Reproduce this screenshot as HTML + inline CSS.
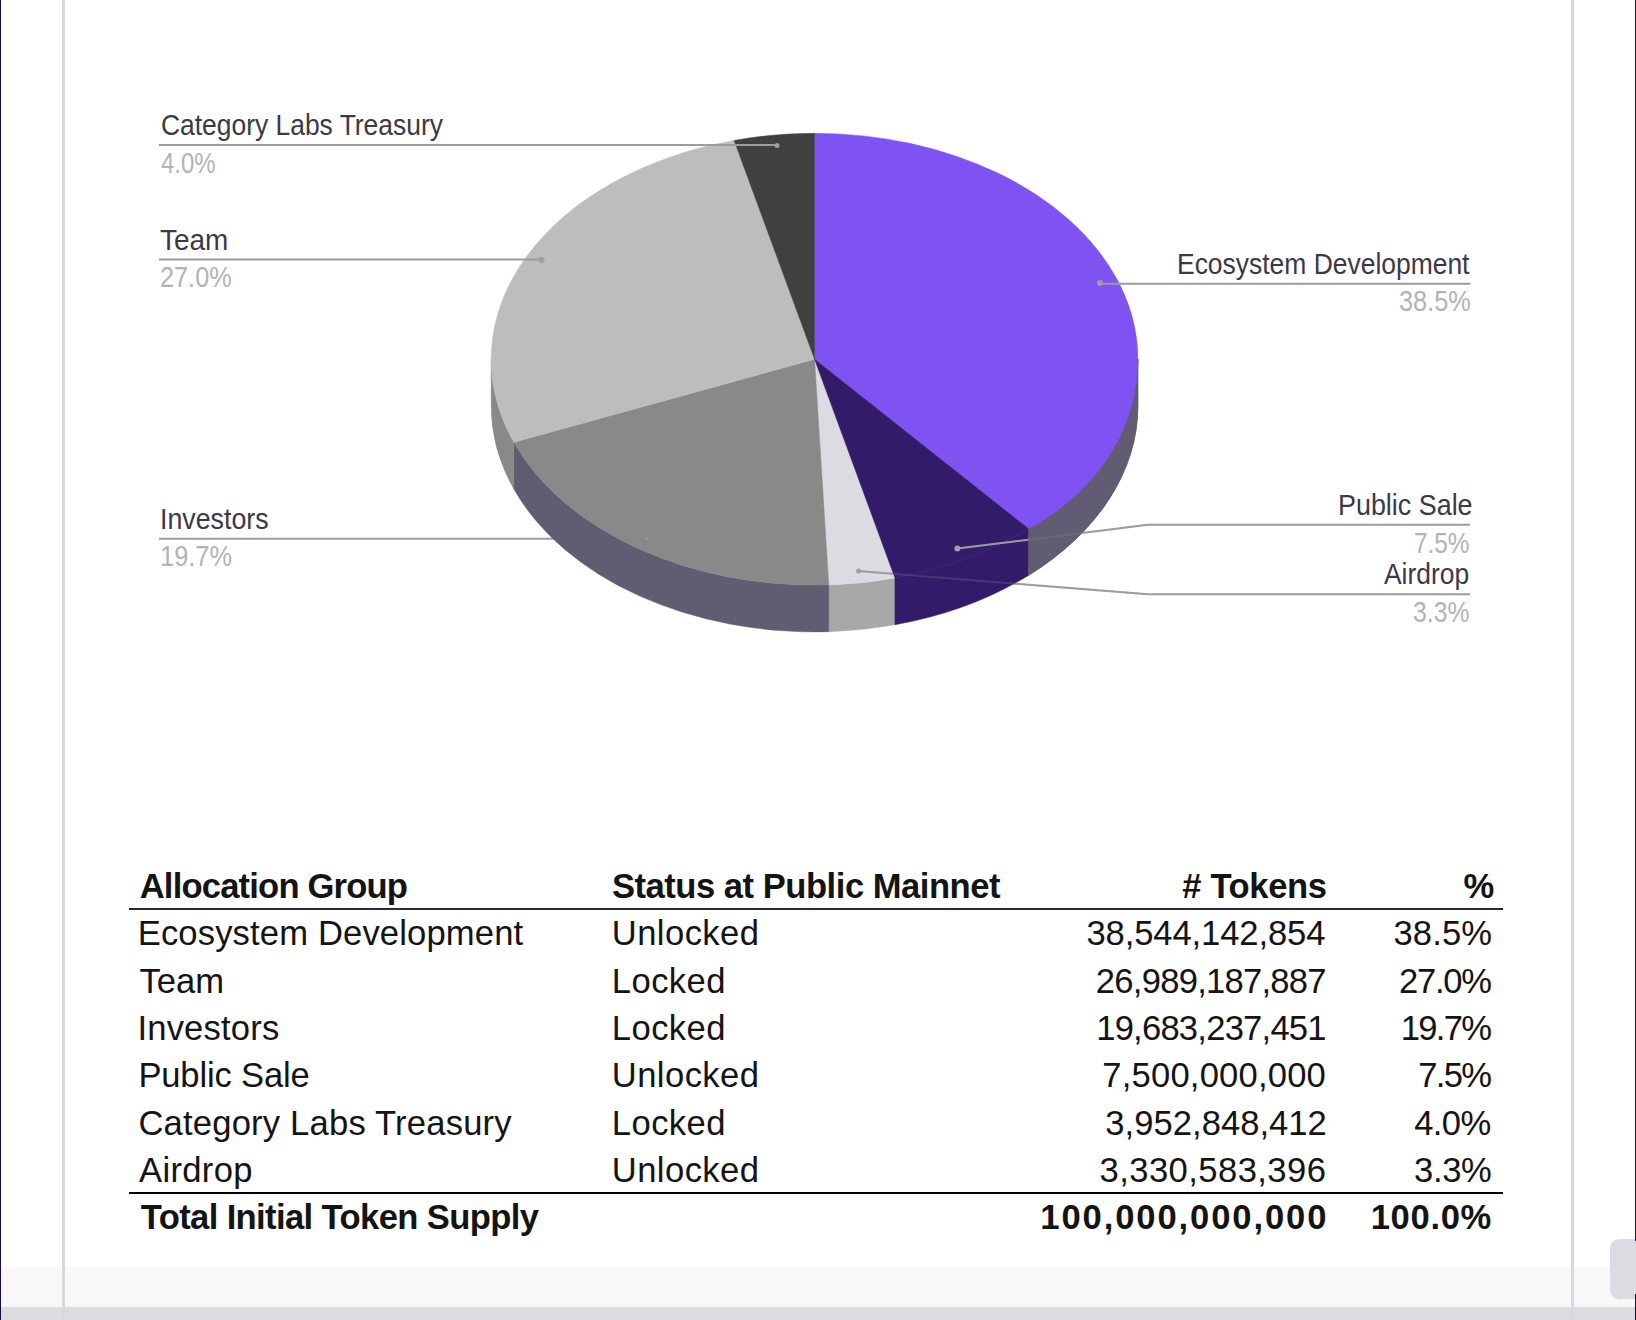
<!DOCTYPE html>
<html><head><meta charset="utf-8"><style>
html,body{margin:0;padding:0;background:#fff;}
body{width:1636px;height:1320px;position:relative;overflow:hidden;font-family:"Liberation Sans",sans-serif;}
.abs{position:absolute;}
.tx{position:absolute;white-space:nowrap;line-height:1;}
</style></head><body>
<div class="abs" style="left:1px;top:1267px;width:1634px;height:40px;background:#f8f8f8"></div>
<div class="abs" style="left:1px;top:1307px;width:1634px;height:13px;background:#dcdce0"></div>
<div class="abs" style="left:1609.5px;top:1239.2px;width:40px;height:59.6px;border-radius:9px;background:#dcdbe1"></div>
<div class="abs" style="left:0;top:0;width:1px;height:1320px;background:#1c0a4f"></div>
<div class="abs" style="left:1635px;top:0;width:1px;height:1241px;background:#1c0a4f"></div>
<div class="abs" style="left:1635px;top:1294px;width:1px;height:26px;background:#1c0a4f"></div>
<div class="abs" style="left:62px;top:0;width:3px;height:1320px;background:#d9d8df"></div>
<div class="abs" style="left:1571px;top:0;width:3px;height:1320px;background:#d9d8df"></div>
<svg class="abs" style="left:0;top:0" width="1636" height="700" viewBox="0 0 1636 700">
<polyline points="159,538.7 600,538.7" stroke="#9c9ca0" stroke-width="2" fill="none"/>
<path d="M1137.90,359.20 A323.35,225.9 0 0 1 1028.39,528.65 L1028.39,575.45 A323.35,225.9 0 0 0 1137.90,406.00 Z" fill="#615c71" stroke="#615c71" stroke-width="0.5"/>
<path d="M894.96,578.00 A323.35,225.9 0 0 1 828.77,584.88 L828.77,631.68 A323.35,225.9 0 0 0 894.96,624.80 Z" fill="#a8a8a8" stroke="#a8a8a8" stroke-width="0.5"/>
<path d="M828.77,584.88 A323.35,225.9 0 0 1 513.91,442.36 L513.91,489.16 A323.35,225.9 0 0 0 828.77,631.68 Z" fill="#615c71" stroke="#615c71" stroke-width="0.5"/>
<path d="M513.91,442.36 A323.35,225.9 0 0 1 491.20,359.20 L491.20,406.00 A323.35,225.9 0 0 0 513.91,489.16 Z" fill="#898989" stroke="#898989" stroke-width="0.5"/>
<path d="M814.55,359.2 L814.55,133.30 A323.35,225.9 0 0 1 1028.39,528.65 Z" fill="#7f52f2" stroke="#7f52f2" stroke-width="0.5"/>
<path d="M814.55,359.2 L894.96,578.00 A323.35,225.9 0 0 1 828.77,584.88 Z" fill="#dcdbe1" stroke="#dcdbe1" stroke-width="0.5"/>
<path d="M814.55,359.2 L828.77,584.88 A323.35,225.9 0 0 1 513.91,442.36 Z" fill="#898989" stroke="#898989" stroke-width="0.5"/>
<path d="M814.55,359.2 L513.91,442.36 A323.35,225.9 0 0 1 734.14,140.40 Z" fill="#bdbdbd" stroke="#bdbdbd" stroke-width="0.5"/>
<path d="M814.55,359.2 L734.14,140.40 A323.35,225.9 0 0 1 814.55,133.30 Z" fill="#404040" stroke="#404040" stroke-width="0.5"/>
<polyline points="1470,594.3 1148,594.3 858.6,571.1" stroke="#9c9ca0" stroke-width="2" fill="none"/>
<circle cx="858.6" cy="571.1" r="2.5" fill="#a0a0a4"/>
<path d="M1028.39,528.65 A323.35,225.9 0 0 1 894.96,578.00 L894.96,624.80 A323.35,225.9 0 0 0 1028.39,575.45 Z" fill="#321b69" stroke="#321b69" stroke-width="0.5"/>
<path d="M814.55,359.2 L1028.39,528.65 A323.35,225.9 0 0 1 894.96,578.00 Z" fill="#321b69" stroke="#321b69" stroke-width="0.5"/>
<polyline points="1470,524.7 1148,524.7 957.4,548.6" stroke="#9c9ca0" stroke-width="2" fill="none"/>
<circle cx="957.4" cy="548.6" r="3" fill="#a0a0a4"/>
<path d="M1137.90,359.20 A323.35,225.9 0 0 1 1028.39,528.65 L1028.39,575.45 A323.35,225.9 0 0 0 1137.90,406.00 Z" fill="#615c71" stroke="#615c71" stroke-width="0.5"/>
<polygon points="1137.90,359.20 1137.83,364.82 1137.61,370.03 1137.25,375.15 1136.74,380.22 1136.08,385.24 1135.29,390.23 1134.34,395.18 1133.26,400.10 1132.03,404.99 1130.66,409.83 1129.14,414.64 1127.49,419.41 1125.69,424.14 1123.75,428.83 1121.68,433.47 1119.47,438.07 1117.12,442.62 1114.63,447.12 1112.01,451.57 1109.25,455.96 1106.36,460.30 1103.35,464.58 1100.20,468.80 1096.92,472.96 1093.52,477.05 1089.99,481.08 1086.33,485.04 1082.56,488.93 1078.66,492.75 1074.64,496.50 1070.51,500.17 1066.27,503.76 1061.91,507.27 1057.43,510.69 1052.85,514.02 1048.17,517.26 1043.37,520.40 1038.48,523.41 1033.48,526.27 1028.39,528.65 1028.39,526.15 1033.48,522.94 1038.48,519.66 1043.37,516.31 1048.17,512.88 1052.85,509.39 1057.43,505.82 1061.91,502.19 1066.27,498.50 1070.51,494.73 1074.64,490.91 1078.66,487.03 1082.56,483.09 1086.33,479.09 1089.99,475.03 1093.52,470.93 1096.92,466.77 1100.20,462.56 1103.35,458.31 1106.36,454.01 1109.25,449.66 1112.01,445.27 1114.63,440.85 1117.12,436.38 1119.47,431.88 1121.68,427.35 1123.75,422.78 1125.69,418.19 1127.49,413.57 1129.14,408.92 1130.66,404.25 1132.03,399.55 1133.26,394.84 1134.34,390.11 1135.29,385.36 1136.08,380.61 1136.74,375.84 1137.25,371.06 1137.61,366.28 1137.83,361.49 1137.90,356.70" fill="#7f52f2"/>
<polyline points="1148,594.3 858.6,571.1" stroke="#9c9ca0" stroke-width="2" fill="none" opacity="0.22"/>
<polyline points="1148,524.7 957.4,548.6" stroke="#9c9ca0" stroke-width="2" fill="none" opacity="0.18"/>
<circle cx="646.5" cy="538.5" r="1.5" fill="#a0a0a4" opacity="0.6"/>
<polyline points="159,145 777,145" stroke="#9c9ca0" stroke-width="2" fill="none"/>
<polyline points="159,259.6 541,259.6" stroke="#9c9ca0" stroke-width="2" fill="none"/>
<polyline points="1100,283.8 1470.4,283.8" stroke="#9c9ca0" stroke-width="2" fill="none"/>
<circle cx="777" cy="145.5" r="2.5" fill="#a0a0a4"/>
<circle cx="541.5" cy="260" r="3" fill="#a0a0a4"/>
<circle cx="1100" cy="283" r="3" fill="#a0a0a4"/>
</svg>
<div class="tx" id="L1" style="left:160.66px;top:110.95px;font-size:29.0px;transform:scaleX(0.9108);transform-origin:0 0;color:#3b3946;">Category Labs Treasury</div>
<div class="tx" id="P1" style="left:161.12px;top:148.55px;font-size:29.0px;transform:scaleX(0.8259);transform-origin:0 0;color:#b3b3b6;">4.0%</div>
<div class="tx" id="L2" style="left:159.79px;top:225.85px;font-size:29.0px;transform:scaleX(0.9628);transform-origin:0 0;color:#3b3946;">Team</div>
<div class="tx" id="P2" style="left:160.03px;top:263.15px;font-size:29.0px;transform:scaleX(0.8715);transform-origin:0 0;color:#b3b3b6;">27.0%</div>
<div class="tx" id="L3" style="left:159.52px;top:504.75px;font-size:29.0px;transform:scaleX(0.9233);transform-origin:0 0;color:#3b3946;">Investors</div>
<div class="tx" id="P3" style="left:160.25px;top:542.15px;font-size:29.0px;transform:scaleX(0.8772);transform-origin:0 0;color:#b3b3b6;">19.7%</div>
<div class="tx" id="L4" style="left:1177.16px;top:250.25px;font-size:29.0px;transform:scaleX(0.9118);transform-origin:0 0;color:#3b3946;">Ecosystem Development</div>
<div class="tx" id="P4" style="left:1398.79px;top:287.15px;font-size:29.0px;transform:scaleX(0.8728);transform-origin:0 0;color:#b3b3b6;">38.5%</div>
<div class="tx" id="L5" style="left:1337.61px;top:491.25px;font-size:29.0px;transform:scaleX(0.9275);transform-origin:0 0;color:#3b3946;">Public Sale</div>
<div class="tx" id="P5" style="left:1414.29px;top:528.65px;font-size:29.0px;transform:scaleX(0.8386);transform-origin:0 0;color:#b3b3b6;">7.5%</div>
<div class="tx" id="L6" style="left:1384.36px;top:560.15px;font-size:29.0px;transform:scaleX(0.9111);transform-origin:0 0;color:#3b3946;">Airdrop</div>
<div class="tx" id="P6" style="left:1412.81px;top:597.65px;font-size:29.0px;transform:scaleX(0.8536);transform-origin:0 0;color:#b3b3b6;">3.3%</div>
<div class="tx" id="T0a" style="left:139.70px;top:869.21px;font-size:34.6px;letter-spacing:-0.813px;color:#141414;font-weight:bold;">Allocation Group</div>
<div class="tx" id="T0b" style="left:611.90px;top:869.21px;font-size:34.6px;letter-spacing:-0.478px;color:#141414;font-weight:bold;">Status at Public Mainnet</div>
<div class="tx" id="T0c" style="left:1182.30px;top:869.21px;font-size:34.6px;letter-spacing:-0.371px;color:#141414;font-weight:bold;"># Tokens</div>
<div class="tx" id="T0d" style="left:1463.50px;top:869.21px;font-size:34.6px;letter-spacing:-6.000px;color:#141414;font-weight:bold;">%</div>
<div class="tx" id="T1a" style="left:137.70px;top:916.31px;font-size:34.6px;letter-spacing:0.150px;color:#141414;">Ecosystem Development</div>
<div class="tx" id="T1b" style="left:611.80px;top:916.31px;font-size:34.6px;letter-spacing:0.429px;color:#141414;">Unlocked</div>
<div class="tx" id="T1c" style="left:1086.50px;top:916.31px;font-size:34.6px;letter-spacing:-0.108px;color:#141414;">38,544,142,854</div>
<div class="tx" id="T1d" style="left:1393.40px;top:916.31px;font-size:34.6px;letter-spacing:0.150px;color:#141414;">38.5%</div>
<div class="tx" id="T2a" style="left:139.40px;top:963.71px;font-size:34.6px;letter-spacing:0.067px;color:#141414;">Team</div>
<div class="tx" id="T2b" style="left:611.80px;top:963.71px;font-size:34.6px;letter-spacing:0.440px;color:#141414;">Locked</div>
<div class="tx" id="T2c" style="left:1095.80px;top:963.71px;font-size:34.6px;letter-spacing:-0.738px;color:#141414;">26,989,187,887</div>
<div class="tx" id="T2d" style="left:1399.00px;top:963.71px;font-size:34.6px;letter-spacing:-1.250px;color:#141414;">27.0%</div>
<div class="tx" id="T3a" style="left:137.40px;top:1011.21px;font-size:34.6px;letter-spacing:0.200px;color:#141414;">Investors</div>
<div class="tx" id="T3b" style="left:611.80px;top:1011.21px;font-size:34.6px;letter-spacing:0.440px;color:#141414;">Locked</div>
<div class="tx" id="T3c" style="left:1096.20px;top:1011.21px;font-size:34.6px;letter-spacing:-0.769px;color:#141414;">19,683,237,451</div>
<div class="tx" id="T3d" style="left:1400.70px;top:1011.21px;font-size:34.6px;letter-spacing:-1.700px;color:#141414;">19.7%</div>
<div class="tx" id="T4a" style="left:138.40px;top:1058.41px;font-size:34.6px;letter-spacing:-0.160px;color:#141414;">Public Sale</div>
<div class="tx" id="T4b" style="left:611.80px;top:1058.41px;font-size:34.6px;letter-spacing:0.429px;color:#141414;">Unlocked</div>
<div class="tx" id="T4c" style="left:1102.30px;top:1058.41px;font-size:34.6px;letter-spacing:0.200px;color:#141414;">7,500,000,000</div>
<div class="tx" id="T4d" style="left:1418.30px;top:1058.41px;font-size:34.6px;letter-spacing:-1.733px;color:#141414;">7.5%</div>
<div class="tx" id="T5a" style="left:138.40px;top:1105.71px;font-size:34.6px;letter-spacing:0.200px;color:#141414;">Category Labs Treasury</div>
<div class="tx" id="T5b" style="left:611.80px;top:1105.71px;font-size:34.6px;letter-spacing:0.440px;color:#141414;">Locked</div>
<div class="tx" id="T5c" style="left:1105.30px;top:1105.71px;font-size:34.6px;letter-spacing:0.033px;color:#141414;">3,952,848,412</div>
<div class="tx" id="T5d" style="left:1414.20px;top:1105.71px;font-size:34.6px;letter-spacing:-0.600px;color:#141414;">4.0%</div>
<div class="tx" id="T6a" style="left:139.00px;top:1153.11px;font-size:34.6px;letter-spacing:0.333px;color:#141414;">Airdrop</div>
<div class="tx" id="T6b" style="left:611.80px;top:1153.11px;font-size:34.6px;letter-spacing:0.429px;color:#141414;">Unlocked</div>
<div class="tx" id="T6c" style="left:1099.60px;top:1153.11px;font-size:34.6px;letter-spacing:0.433px;color:#141414;">3,330,583,396</div>
<div class="tx" id="T6d" style="left:1414.00px;top:1153.11px;font-size:34.6px;letter-spacing:-0.333px;color:#141414;">3.3%</div>
<div class="tx" id="T7a" style="left:140.70px;top:1200.31px;font-size:34.6px;letter-spacing:-0.616px;color:#141414;font-weight:bold;">Total Initial Token Supply</div>
<div class="tx" id="T7c" style="left:1040.30px;top:1200.31px;font-size:34.6px;letter-spacing:1.900px;color:#141414;font-weight:bold;">100,000,000,000</div>
<div class="tx" id="T7d" style="left:1370.70px;top:1200.31px;font-size:34.6px;letter-spacing:0.680px;color:#141414;font-weight:bold;">100.0%</div>
<div class="abs" style="left:129px;top:907.6px;width:1374.2px;height:2.6px;background:#2b2b2b"></div>
<div class="abs" style="left:129px;top:1191.6px;width:1374.2px;height:2.8px;background:#000"></div>
</body></html>
